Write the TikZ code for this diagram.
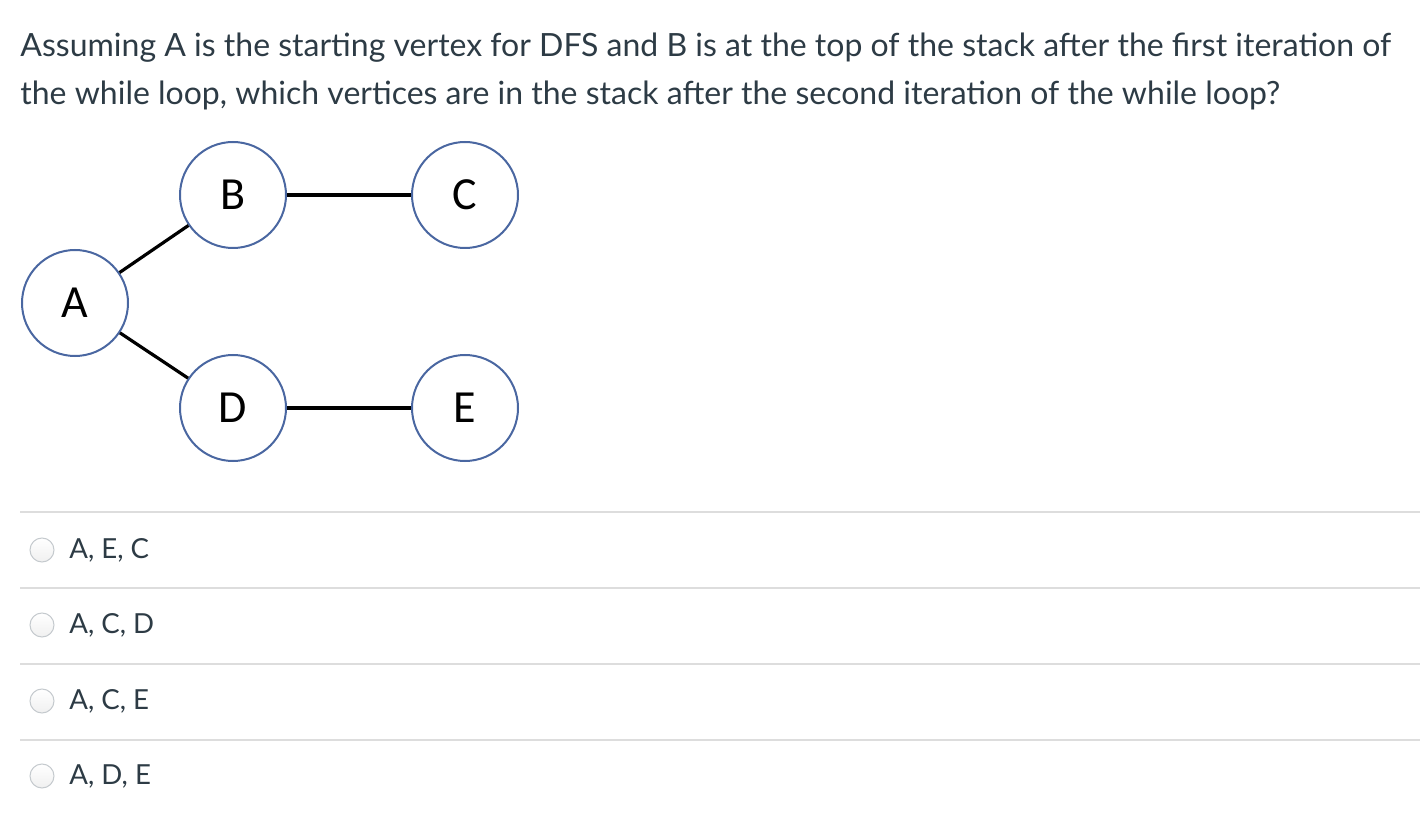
\documentclass[tikz,border=0pt]{standalone}
\usepackage{fontspec}
\setmainfont{Lato}
\newfontfamily\labelfont{Carlito}
\definecolor{ink}{HTML}{2D3B45}
\definecolor{ringblue}{HTML}{4A67A1}
\definecolor{rulegray}{HTML}{DDDDDD}
\definecolor{radiogray}{HTML}{C5CACE}

\begin{document}
\begin{tikzpicture}[x=0.5pt,y=-0.5pt,
    vertex/.style={circle,draw=ringblue,line width=1pt,minimum size=53pt,inner sep=0pt,
      font=\labelfont\fontsize{23}{23}\selectfont},
    edge/.style={line width=1.6pt,black},
    sepline/.style={draw=rulegray,line width=1pt},
    radio/.style={circle,draw=radiogray,line width=0.5pt,minimum size=12pt,inner sep=0pt,
      top color=white,bottom color=gray!12},
    question/.style={anchor=base west,inner sep=0pt,text=ink,font=\fontsize{16}{24}\selectfont},
    answer/.style={anchor=base west,inner sep=0pt,text=ink,font=\fontsize{13.8}{16}\selectfont}]
    \useasboundingbox (0,0) rectangle (1420,818);

    % Pregunta
    \node[question] (q1) at (20,57) {Assuming A is the starting vertex for DFS and B is at the top of the stack after the first iteration of};
    \node[question] (q2) at (20,105) {the while loop, which vertices are in the stack after the second iteration of the while loop?};

    % Grafo
    \node[vertex] (A) at (75,303) {A};
    \node[vertex] (B) at (233,195) {B};
    \node[vertex] (C) at (465,195) {C};
    \node[vertex] (D) at (233,408) {D};
    \node[vertex] (E) at (465,408) {E};
    \draw[edge] (A) -- (B);
    \draw[edge] (A) -- (D);
    \draw[edge] (B) -- (C);
    \draw[edge] (D) -- (E);

    % Separadores
    \foreach \y in {512,588,664,740}
      \draw[sepline] (20,\y) -- (1420,\y);

    % Opciones
    \node[radio] (r1) at (42,550) {};
    \node[radio] (r2) at (42,625) {};
    \node[radio] (r3) at (42,701) {};
    \node[radio] (r4) at (42,776) {};
    \node[answer] (o1) at (69,558) {A, E, C};
    \node[answer] (o2) at (69,633) {A, C, D};
    \node[answer] (o3) at (69,709) {A, C, E};
    \node[answer] (o4) at (69,784) {A, D, E};
\end{tikzpicture}
\end{document}
